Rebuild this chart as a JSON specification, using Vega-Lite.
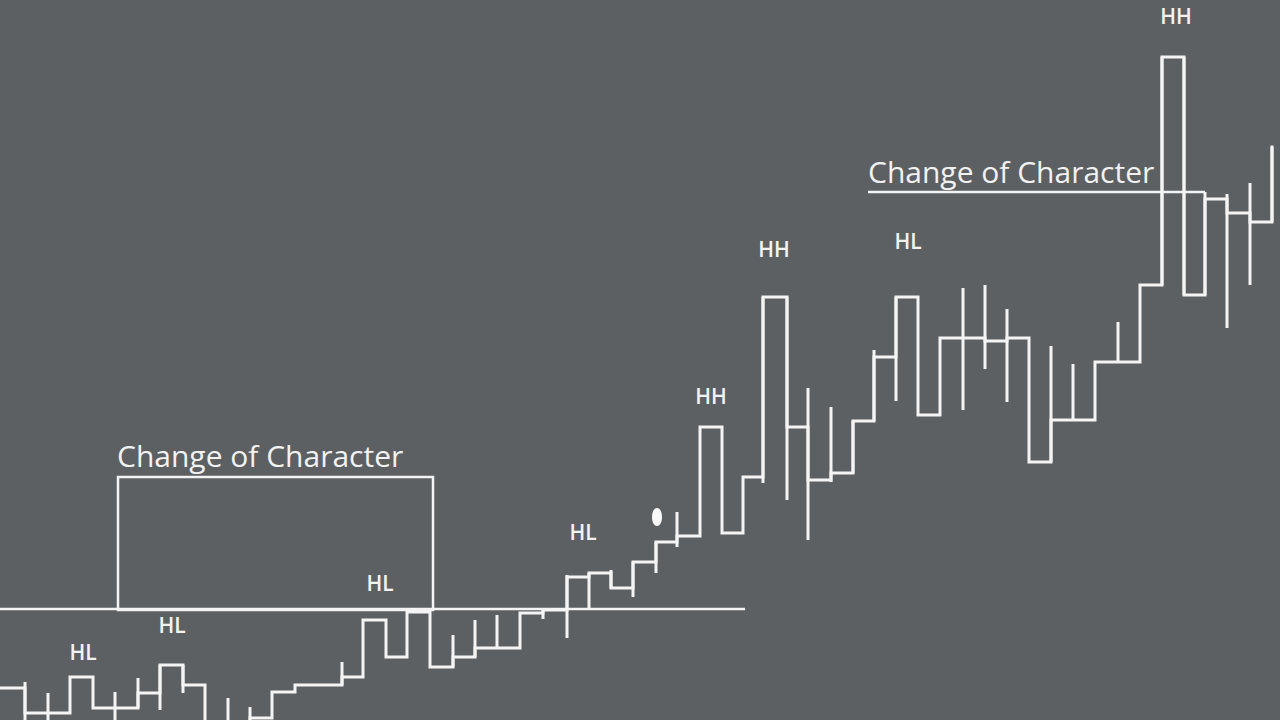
{
  "$schema": "https://vega.github.io/schema/vega-lite/v6.json",
  "autosize": {"type": "fit", "contains": "padding"},
  "width": 1280,
  "height": 720,
  "padding": 0,
  "background": "#5d6063",
  "config": {"view": {"stroke": null}},
  "datasets": {
    "path": [
      {"seg": "A", "i": 1, "x": 0, "level": 32},
      {"seg": "A", "i": 2, "x": 25, "level": 32},
      {"seg": "A", "i": 3, "x": 25, "level": 7},
      {"seg": "A", "i": 4, "x": 70, "level": 7},
      {"seg": "A", "i": 5, "x": 70, "level": 43},
      {"seg": "A", "i": 6, "x": 93, "level": 43},
      {"seg": "A", "i": 7, "x": 93, "level": 12},
      {"seg": "A", "i": 8, "x": 138, "level": 12},
      {"seg": "A", "i": 9, "x": 138, "level": 27},
      {"seg": "A", "i": 10, "x": 160, "level": 27},
      {"seg": "A", "i": 11, "x": 160, "level": 55},
      {"seg": "A", "i": 12, "x": 183, "level": 55},
      {"seg": "A", "i": 13, "x": 183, "level": 35},
      {"seg": "A", "i": 14, "x": 205, "level": 35},
      {"seg": "A", "i": 15, "x": 205, "level": -10},
      {"seg": "B", "i": 20, "x": 250, "level": -10},
      {"seg": "B", "i": 21, "x": 250, "level": 2},
      {"seg": "B", "i": 22, "x": 272, "level": 2},
      {"seg": "B", "i": 23, "x": 272, "level": 28},
      {"seg": "B", "i": 24, "x": 295, "level": 28},
      {"seg": "B", "i": 25, "x": 295, "level": 35},
      {"seg": "B", "i": 26, "x": 342, "level": 35},
      {"seg": "B", "i": 27, "x": 342, "level": 43},
      {"seg": "B", "i": 28, "x": 363, "level": 43},
      {"seg": "B", "i": 29, "x": 363, "level": 100},
      {"seg": "B", "i": 30, "x": 386, "level": 100},
      {"seg": "B", "i": 31, "x": 386, "level": 63},
      {"seg": "B", "i": 32, "x": 407, "level": 63},
      {"seg": "B", "i": 33, "x": 407, "level": 108},
      {"seg": "B", "i": 34, "x": 430, "level": 108},
      {"seg": "B", "i": 35, "x": 430, "level": 53},
      {"seg": "B", "i": 36, "x": 453, "level": 53},
      {"seg": "B", "i": 37, "x": 453, "level": 63},
      {"seg": "B", "i": 38, "x": 475, "level": 63},
      {"seg": "B", "i": 39, "x": 475, "level": 72},
      {"seg": "B", "i": 40, "x": 520, "level": 72},
      {"seg": "B", "i": 41, "x": 520, "level": 107},
      {"seg": "B", "i": 42, "x": 543, "level": 107},
      {"seg": "B", "i": 43, "x": 543, "level": 110},
      {"seg": "B", "i": 44, "x": 567, "level": 110},
      {"seg": "B", "i": 45, "x": 567, "level": 143},
      {"seg": "B", "i": 46, "x": 589, "level": 143},
      {"seg": "B", "i": 47, "x": 589, "level": 147},
      {"seg": "B", "i": 48, "x": 611, "level": 147},
      {"seg": "B", "i": 49, "x": 611, "level": 132},
      {"seg": "B", "i": 50, "x": 633, "level": 132},
      {"seg": "B", "i": 51, "x": 633, "level": 158},
      {"seg": "B", "i": 52, "x": 656, "level": 158},
      {"seg": "B", "i": 53, "x": 656, "level": 178},
      {"seg": "B", "i": 54, "x": 677, "level": 178},
      {"seg": "B", "i": 55, "x": 677, "level": 184},
      {"seg": "B", "i": 56, "x": 700, "level": 184},
      {"seg": "B", "i": 57, "x": 700, "level": 293},
      {"seg": "B", "i": 58, "x": 722, "level": 293},
      {"seg": "B", "i": 59, "x": 722, "level": 187},
      {"seg": "B", "i": 60, "x": 743, "level": 187},
      {"seg": "B", "i": 61, "x": 743, "level": 243},
      {"seg": "B", "i": 62, "x": 763, "level": 243},
      {"seg": "B", "i": 63, "x": 763, "level": 423},
      {"seg": "B", "i": 64, "x": 787, "level": 423},
      {"seg": "B", "i": 65, "x": 787, "level": 293},
      {"seg": "B", "i": 66, "x": 808, "level": 293},
      {"seg": "B", "i": 67, "x": 808, "level": 240},
      {"seg": "B", "i": 68, "x": 831, "level": 240},
      {"seg": "B", "i": 69, "x": 831, "level": 247},
      {"seg": "B", "i": 70, "x": 853, "level": 247},
      {"seg": "B", "i": 71, "x": 853, "level": 299},
      {"seg": "B", "i": 72, "x": 874, "level": 299},
      {"seg": "B", "i": 73, "x": 874, "level": 363},
      {"seg": "B", "i": 74, "x": 896, "level": 363},
      {"seg": "B", "i": 75, "x": 896, "level": 423},
      {"seg": "B", "i": 76, "x": 918, "level": 423},
      {"seg": "B", "i": 77, "x": 918, "level": 305},
      {"seg": "B", "i": 78, "x": 940, "level": 305},
      {"seg": "B", "i": 79, "x": 940, "level": 382},
      {"seg": "B", "i": 80, "x": 985, "level": 382},
      {"seg": "B", "i": 81, "x": 985, "level": 379},
      {"seg": "B", "i": 82, "x": 1007, "level": 379},
      {"seg": "B", "i": 83, "x": 1007, "level": 382},
      {"seg": "B", "i": 84, "x": 1029, "level": 382},
      {"seg": "B", "i": 85, "x": 1029, "level": 258},
      {"seg": "B", "i": 86, "x": 1051, "level": 258},
      {"seg": "B", "i": 87, "x": 1051, "level": 300},
      {"seg": "B", "i": 88, "x": 1095, "level": 300},
      {"seg": "B", "i": 89, "x": 1095, "level": 358},
      {"seg": "B", "i": 90, "x": 1140, "level": 358},
      {"seg": "B", "i": 91, "x": 1140, "level": 435},
      {"seg": "B", "i": 92, "x": 1162, "level": 435},
      {"seg": "B", "i": 93, "x": 1162, "level": 663},
      {"seg": "B", "i": 94, "x": 1184, "level": 663},
      {"seg": "B", "i": 95, "x": 1184, "level": 425},
      {"seg": "B", "i": 96, "x": 1205, "level": 425},
      {"seg": "B", "i": 97, "x": 1205, "level": 521},
      {"seg": "B", "i": 98, "x": 1227, "level": 521},
      {"seg": "B", "i": 99, "x": 1227, "level": 507},
      {"seg": "B", "i": 100, "x": 1250, "level": 507},
      {"seg": "B", "i": 101, "x": 1250, "level": 498},
      {"seg": "B", "i": 102, "x": 1272, "level": 498},
      {"seg": "B", "i": 103, "x": 1272, "level": 573}
    ],
    "wicks": [
      {"x": 25, "lo": -10, "hi": 38},
      {"x": 48, "lo": -10, "hi": 27},
      {"x": 115, "lo": -10, "hi": 28},
      {"x": 138, "lo": 12, "hi": 42},
      {"x": 160, "lo": 10, "hi": 55},
      {"x": 183, "lo": 27, "hi": 55},
      {"x": 228, "lo": -10, "hi": 22},
      {"x": 250, "lo": -10, "hi": 13},
      {"x": 342, "lo": 35, "hi": 58},
      {"x": 453, "lo": 53, "hi": 85},
      {"x": 475, "lo": 63, "hi": 100},
      {"x": 497, "lo": 72, "hi": 105},
      {"x": 543, "lo": 101, "hi": 110},
      {"x": 567, "lo": 82, "hi": 145},
      {"x": 589, "lo": 112, "hi": 147},
      {"x": 611, "lo": 132, "hi": 150},
      {"x": 633, "lo": 123, "hi": 158},
      {"x": 656, "lo": 147, "hi": 178},
      {"x": 677, "lo": 173, "hi": 208},
      {"x": 763, "lo": 237, "hi": 423},
      {"x": 787, "lo": 220, "hi": 423},
      {"x": 808, "lo": 180, "hi": 332},
      {"x": 831, "lo": 238, "hi": 313},
      {"x": 853, "lo": 247, "hi": 299},
      {"x": 874, "lo": 299, "hi": 370},
      {"x": 896, "lo": 319, "hi": 423},
      {"x": 963, "lo": 310, "hi": 432},
      {"x": 985, "lo": 351, "hi": 435},
      {"x": 1007, "lo": 318, "hi": 411},
      {"x": 1051, "lo": 258, "hi": 374},
      {"x": 1073, "lo": 300, "hi": 356},
      {"x": 1118, "lo": 358, "hi": 398},
      {"x": 1162, "lo": 435, "hi": 663},
      {"x": 1184, "lo": 425, "hi": 663},
      {"x": 1205, "lo": 425, "hi": 528},
      {"x": 1227, "lo": 392, "hi": 526},
      {"x": 1250, "lo": 435, "hi": 537},
      {"x": 1272, "lo": 498, "hi": 573}
    ],
    "levels": [
      {"x": 0, "x2": 745, "level": 111},
      {"x": 868, "x2": 1205, "level": 528}
    ],
    "box": [
      {"x": 118, "x2": 433, "lo": 110, "hi": 243}
    ],
    "tags": [
      {"x": 83, "level": 66, "text": "HL"},
      {"x": 172, "level": 93, "text": "HL"},
      {"x": 380, "level": 135, "text": "HL"},
      {"x": 583, "level": 186, "text": "HL"},
      {"x": 711, "level": 322, "text": "HH"},
      {"x": 774, "level": 469, "text": "HH"},
      {"x": 908, "level": 477, "text": "HL"},
      {"x": 1176, "level": 702, "text": "HH"}
    ],
    "titles": [
      {"x": 117, "level": 253, "text": "Change of Character"},
      {"x": 868, "level": 537, "text": "Change of Character"}
    ],
    "dot": [
      {"x": 657, "level": 203}
    ]
  },
  "layer": [
    {
      "data": {"name": "box"},
      "mark": {"type": "rect", "filled": false, "stroke": "#f4f4f4", "strokeWidth": 2.5, "clip": true},
      "encoding": {
        "x": {"field": "x", "type": "quantitative", "scale": {"domain": [0, 1280], "nice": false, "zero": false}, "axis": null},
        "x2": {"field": "x2"},
        "y": {"field": "lo", "type": "quantitative", "scale": {"domain": [0, 720], "nice": false, "zero": false}, "axis": null},
        "y2": {"field": "hi"}
      }
    },
    {
      "data": {"name": "levels"},
      "mark": {"type": "rule", "stroke": "#f4f4f4", "strokeWidth": 2.5, "clip": true},
      "encoding": {
        "x": {"field": "x", "type": "quantitative"},
        "x2": {"field": "x2"},
        "y": {"field": "level", "type": "quantitative"}
      }
    },
    {
      "data": {"name": "wicks"},
      "mark": {"type": "rule", "stroke": "#f4f4f4", "strokeWidth": 3, "clip": true},
      "encoding": {
        "x": {"field": "x", "type": "quantitative"},
        "y": {"field": "lo", "type": "quantitative"},
        "y2": {"field": "hi"}
      }
    },
    {
      "data": {"name": "path"},
      "mark": {"type": "line", "stroke": "#f4f4f4", "strokeWidth": 3, "strokeJoin": "miter", "strokeCap": "square", "clip": true},
      "encoding": {
        "x": {"field": "x", "type": "quantitative"},
        "y": {"field": "level", "type": "quantitative"},
        "detail": {"field": "seg", "type": "nominal"},
        "order": {"field": "i", "type": "quantitative"}
      }
    },
    {
      "data": {"name": "dot"},
      "mark": {"type": "point", "filled": true, "fill": "#f8f8f8", "opacity": 1, "strokeWidth": 0, "size": 324, "shape": "M0,-1C0.74,-1 0.74,1 0,1C-0.74,1 -0.74,-1 0,-1Z"},
      "encoding": {
        "x": {"field": "x", "type": "quantitative"},
        "y": {"field": "level", "type": "quantitative"}
      }
    },
    {
      "data": {"name": "tags"},
      "mark": {"type": "text", "font": "Open Sans", "fontSize": 21, "fontWeight": 600, "fill": "#f2f2f2", "align": "center", "baseline": "middle"},
      "encoding": {
        "x": {"field": "x", "type": "quantitative"},
        "y": {"field": "level", "type": "quantitative"},
        "text": {"field": "text"}
      }
    },
    {
      "data": {"name": "titles"},
      "mark": {"type": "text", "font": "Open Sans", "fontSize": 30, "fontWeight": 500, "fill": "#f2f2f2", "align": "left", "baseline": "alphabetic"},
      "encoding": {
        "x": {"field": "x", "type": "quantitative"},
        "y": {"field": "level", "type": "quantitative"},
        "text": {"field": "text"}
      }
    }
  ]
}
